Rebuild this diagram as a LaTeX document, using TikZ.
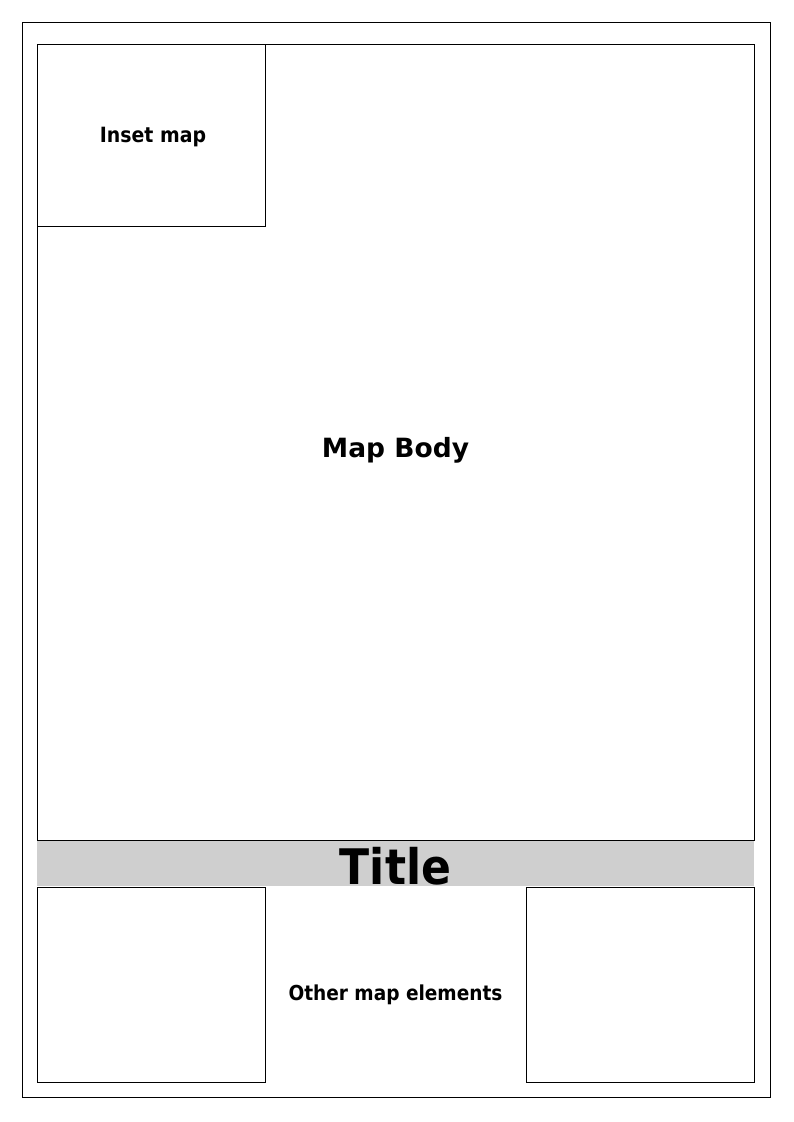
\documentclass[tikz,border=0pt]{standalone}
\usepackage{fontspec}
\setmainfont{DejaVu Sans}
\newfontfamily\condfont{DejaVu Sans Condensed}
\usepackage{tikz}
\usetikzlibrary{positioning, calc}

\begin{document}
\begin{tikzpicture}[x=1pt, y=-1pt, thick]
        % Define block styles
        \tikzstyle{frame} = [rectangle, draw, line width=0.8pt, anchor=north west, inner sep=0pt, outer sep=0pt]
        \tikzstyle{band} = [rectangle, fill=black!19, anchor=north west, inner sep=0pt, outer sep=0pt]
        \tikzstyle{label} = [align=center]

        \useasboundingbox (0,0) rectangle (793,1122);

        % Place page frame and title band
        \node [frame, minimum width=748pt, minimum height=1075pt] (page) at (22,22) {};
        \node [band, minimum width=717pt, minimum height=45pt] (title) at (37,841) {};

        % Place main blocks
        \node [frame, minimum width=717pt, minimum height=796pt] (body) at (37,44) {};
        \node [frame, minimum width=228pt, minimum height=182pt] (inset) at (37,44) {};
        \node [frame, minimum width=228pt, minimum height=195pt] (left) at (37,887) {};
        \node [frame, minimum width=228pt, minimum height=195pt] (right) at (526,887) {};

        % Add text on the blocks
        \node [label, font=\fontsize{26.5}{30}\selectfont\bfseries, yshift=-8pt] at (body) {Map Body};
        \node [label, font=\condfont\fontsize{21}{24}\selectfont\bfseries, xshift=2pt, yshift=-2pt] at (inset) {Inset map};
        \node [label, font=\condfont\fontsize{49}{50}\selectfont\bfseries, yshift=-3pt] at (title) {Title};
        \node [label, font=\condfont\fontsize{20.6}{24}\selectfont\bfseries] at ($(left.east)!0.5!(right.west)+(0,10)$) {Other map elements};

    \end{tikzpicture}
\end{document}
